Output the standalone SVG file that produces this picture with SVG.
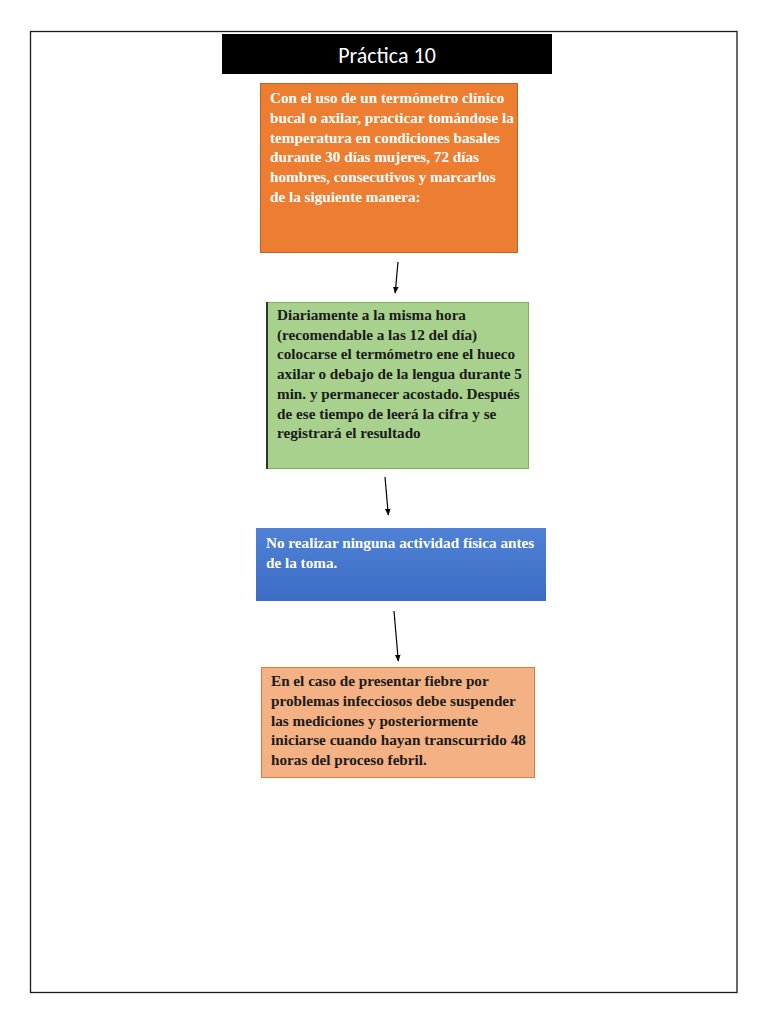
<svg xmlns="http://www.w3.org/2000/svg" width="768" height="1024" viewBox="0 0 768 1024">
<defs>
<style>
.t{font-family:"Liberation Serif","DejaVu Serif",serif;font-weight:bold;font-size:15.2px}
.w{fill:#ffffff}
.k{fill:#1a1a1a}
.ttl{font-family:Carlito,"Open Sans","Liberation Sans",sans-serif;font-size:22px;fill:#ffffff}
.arr{stroke:#000;stroke-width:1.2;fill:none;marker-end:url(#ah)}
</style>
<marker id="ah" viewBox="0 0 10 10" refX="9" refY="5" markerWidth="7" markerHeight="7" orient="auto" markerUnits="userSpaceOnUse">
<path d="M0,1 L10,5 L0,9 z" fill="#000"/>
</marker>
<linearGradient id="bg" x1="0" y1="0" x2="0" y2="1">
<stop offset="0" stop-color="#4f82d6"/>
<stop offset="1" stop-color="#3c6cc4"/>
</linearGradient>
</defs>
<rect x="0" y="0" width="768" height="1024" fill="#ffffff"/>
<rect x="30.5" y="31.5" width="706.5" height="961" fill="none" stroke="#1a1a1a" stroke-width="1.3"/>
<g id="title">
<rect x="222" y="34" width="330" height="40" fill="#000000"/>
<text class="ttl" x="387" y="63" text-anchor="middle">Práctica 10</text>
</g>
<g id="node1">
<rect x="260.5" y="83.5" width="257" height="169" fill="#ED7D31" stroke="#B9652A" stroke-width="1"/>
<text class="t w" x="270" y="103">Con el uso de un termómetro clínico</text>
<text class="t w" x="270" y="123">bucal o axilar, practicar tomándose la</text>
<text class="t w" x="270" y="143">temperatura en condiciones basales</text>
<text class="t w" x="270" y="162">durante 30 días mujeres, 72 días</text>
<text class="t w" x="270" y="182">hombres, consecutivos y marcarlos</text>
<text class="t w" x="270" y="202">de la siguiente manera:</text>
</g>
<g id="node2">
<rect x="266.5" y="302.5" width="262" height="166" fill="#A9D18E" stroke="#7FB05C" stroke-width="1"/>
<line x1="267" y1="302" x2="267" y2="469" stroke="#2d3a1e" stroke-width="2"/>
<text class="t k" x="277" y="320">Diariamente a la misma hora</text>
<text class="t k" x="277" y="340">(recomendable a las 12 del día)</text>
<text class="t k" x="277" y="359">colocarse el termómetro ene el hueco</text>
<text class="t k" x="277" y="379">axilar o debajo de la lengua durante 5</text>
<text class="t k" x="277" y="399">min. y permanecer acostado. Después</text>
<text class="t k" x="277" y="419">de ese tiempo de leerá la cifra y se</text>
<text class="t k" x="277" y="438">registrará el resultado</text>
</g>
<g id="node3">
<rect x="256" y="528" width="290" height="73" fill="url(#bg)"/>
<text class="t w" x="266" y="548">No realizar ninguna actividad física antes</text>
<text class="t w" x="266" y="568">de la toma.</text>
</g>
<g id="node4">
<rect x="261.5" y="667.5" width="273" height="110" fill="#F4B183" stroke="#E07A3A" stroke-width="1"/>
<text class="t k" x="271" y="686">En el caso de presentar fiebre por</text>
<text class="t k" x="271" y="706">problemas infecciosos debe suspender</text>
<text class="t k" x="271" y="726">las mediciones y posteriormente</text>
<text class="t k" x="271" y="745">iniciarse cuando hayan transcurrido 48</text>
<text class="t k" x="271" y="765">horas del proceso febril.</text>
</g>
<g id="connectors">
<line class="arr" x1="398" y1="262" x2="395.2" y2="293"/>
<line class="arr" x1="385" y1="477" x2="388.3" y2="515"/>
<line class="arr" x1="394" y1="611" x2="398.3" y2="661"/>
</g>
</svg>
